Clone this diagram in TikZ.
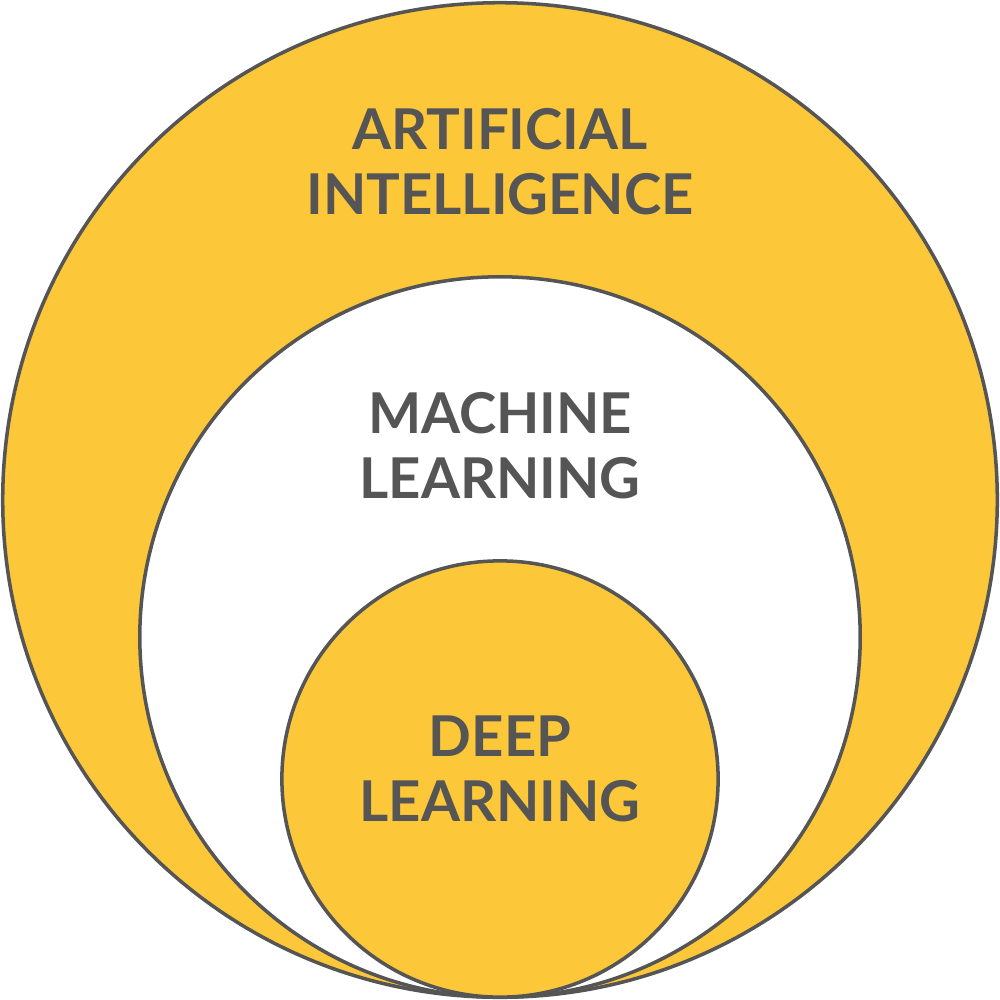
\documentclass[tikz,border=0pt]{standalone}
\usepackage{fontspec}
\setmainfont{Lato}
\definecolor{ylw}{HTML}{FDC73A}
\definecolor{gry}{HTML}{555555}
\begin{document}
\begin{tikzpicture}[x=0.01cm,y=-0.01cm,
  ring/.style={draw=gry,line width=1pt},
  lbl/.style={text=gry,font=\bfseries\fontsize{16}{18.5}\selectfont,align=center}]
\useasboundingbox (0,0) rectangle (1000,1000);
\node[ring,fill=ylw,circle,minimum size=9.94cm,inner sep=0] (ai) at (500,500) {};
\node[ring,fill=white,circle,minimum size=7.2cm,inner sep=0] (ml) at (500,637) {};
\node[ring,fill=ylw,circle,minimum size=4.36cm,inner sep=0] (dl) at (500,779) {};
\node[lbl] (tai) at (500,162) {ARTIFICIAL\\INTELLIGENCE};
\node[lbl] (tml) at (500,446) {MACHINE\\LEARNING};
\node[lbl] (tdl) at (500,769) {DEEP\\LEARNING};
\end{tikzpicture}
\end{document}
